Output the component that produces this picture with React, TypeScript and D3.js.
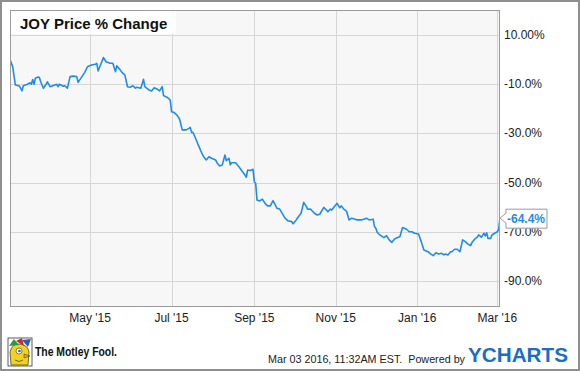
import * as d3 from 'd3';
import { useEffect } from 'react';

const title = 'JOY Price % Change';

// daily % change readings (approx.) off the chart
const dates = [
  '2015-03-02', '2015-03-04', '2015-03-06', '2015-03-09', '2015-03-11', '2015-03-12', '2015-03-15', '2015-03-17',
  '2015-03-18', '2015-03-19', '2015-03-20', '2015-03-21', '2015-03-23', '2015-03-24', '2015-03-25', '2015-03-27',
  '2015-03-29', '2015-03-30', '2015-04-01', '2015-04-03', '2015-04-06', '2015-04-07', '2015-04-08', '2015-04-11',
  '2015-04-12', '2015-04-14', '2015-04-16', '2015-04-18', '2015-04-21', '2015-04-22', '2015-04-24', '2015-04-27',
  '2015-04-29', '2015-05-02', '2015-05-05', '2015-05-06', '2015-05-07', '2015-05-09', '2015-05-11', '2015-05-13',
  '2015-05-16', '2015-05-18', '2015-05-20', '2015-05-21', '2015-05-23', '2015-05-25', '2015-05-27', '2015-05-29',
  '2015-05-31', '2015-06-02', '2015-06-04', '2015-06-05', '2015-06-08', '2015-06-10', '2015-06-11', '2015-06-14',
  '2015-06-16', '2015-06-18', '2015-06-20', '2015-06-22', '2015-06-24', '2015-06-25', '2015-06-28', '2015-06-30',
  '2015-07-01', '2015-07-03', '2015-07-05', '2015-07-07', '2015-07-09', '2015-07-12', '2015-07-14', '2015-07-15',
  '2015-07-16', '2015-07-17', '2015-07-19', '2015-07-21', '2015-07-23', '2015-07-25', '2015-07-27', '2015-07-29',
  '2015-07-31', '2015-08-03', '2015-08-04', '2015-08-06', '2015-08-08', '2015-08-10', '2015-08-11', '2015-08-13',
  '2015-08-14', '2015-08-15', '2015-08-18', '2015-08-20', '2015-08-23', '2015-08-25', '2015-08-26', '2015-08-27',
  '2015-08-29', '2015-08-31', '2015-09-01', '2015-09-02', '2015-09-03', '2015-09-05', '2015-09-07', '2015-09-09',
  '2015-09-11', '2015-09-13', '2015-09-15', '2015-09-18', '2015-09-20', '2015-09-23', '2015-09-24', '2015-09-26',
  '2015-09-29', '2015-09-30', '2015-10-02', '2015-10-04', '2015-10-06', '2015-10-08', '2015-10-10', '2015-10-11',
  '2015-10-13', '2015-10-16', '2015-10-18', '2015-10-20', '2015-10-23', '2015-10-25', '2015-10-26', '2015-10-28',
  '2015-10-29', '2015-10-31', '2015-11-02', '2015-11-04', '2015-11-05', '2015-11-07', '2015-11-09', '2015-11-11',
  '2015-11-13', '2015-11-15', '2015-11-17', '2015-11-20', '2015-11-22', '2015-11-24', '2015-11-26', '2015-11-29',
  '2015-11-30', '2015-12-01', '2015-12-02', '2015-12-04', '2015-12-07', '2015-12-09', '2015-12-11', '2015-12-13',
  '2015-12-15', '2015-12-17', '2015-12-19', '2015-12-21', '2015-12-24', '2015-12-26', '2015-12-28', '2015-12-30',
  '2016-01-02', '2016-01-04', '2016-01-06', '2016-01-09', '2016-01-11', '2016-01-13', '2016-01-15', '2016-01-17',
  '2016-01-19', '2016-01-21', '2016-01-22', '2016-01-24', '2016-01-26', '2016-01-27', '2016-01-29', '2016-01-31',
  '2016-02-02', '2016-02-04', '2016-02-06', '2016-02-08', '2016-02-10', '2016-02-11', '2016-02-13', '2016-02-15',
  '2016-02-16', '2016-02-18', '2016-02-20', '2016-02-21', '2016-02-22', '2016-02-23', '2016-02-25', '2016-02-26',
  '2016-02-28', '2016-03-01', '2016-03-02', '2016-03-03',
];

const pctChange = [
  0, -3, -10.4, -10.8, -12.8, -10.7, -10.1, -9.5,
  -10.1, -8.2, -10.1, -7.7, -7.2, -7.4, -9.1, -11.7,
  -10.1, -9.1, -11.1, -10.7, -10.1, -11.1, -10.1, -10.9,
  -10.7, -11.7, -7, -6.8, -7, -9.3, -7.7, -5.3,
  -3, -2.3, -2, -1.6, -4.7, -2, 0.7, -1,
  -1.6, -1.6, -5, -2.6, -3.9, -5.4, -6.3, -11.1,
  -11.3, -10.7, -11.7, -11.3, -11.7, -8.1, -11.1, -12.4,
  -12.8, -11.5, -12, -12.8, -11.1, -14.7, -15.5, -16.5,
  -21.2, -21.6, -22.6, -24.2, -28.6, -28.6, -28, -27.6,
  -29.6, -29.6, -32, -34.7, -37.2, -39.5, -40.8, -39.5,
  -40.1, -40.8, -41.9, -43.2, -42.8, -38.8, -41.1, -40.1,
  -42.8, -41.9, -41.9, -43.2, -45.5, -46.9, -47.8, -44.9,
  -45.1, -44.6, -49.6, -50.3, -57, -57.4, -56.7, -58.4,
  -59.4, -59.4, -57.3, -60.4, -60.7, -63.5, -64.4, -65.4,
  -65.8, -66.7, -65.4, -63.8, -62.4, -58, -59.7, -60.8,
  -60.7, -62.4, -63.1, -62.8, -60, -61.1, -61.8, -60.7,
  -61.1, -59.7, -58.4, -60.2, -59.4, -60.7, -61.5, -65.1,
  -64.4, -64.7, -65.1, -65.1, -64.8, -64.4, -65.1, -64.8,
  -67.8, -68.5, -70.1, -71.2, -72.3, -71.5, -73.2, -74.2,
  -72.8, -72.3, -71.9, -68.2, -68.9, -69.9, -69.9, -70.5,
  -70.8, -73.9, -77.3, -78, -78.9, -79.6, -78.4, -78.9,
  -78.6, -79.3, -78.9, -79.3, -78, -78, -77, -77,
  -78, -73.2, -73.9, -74.9, -75.5, -74.3, -72.9, -72.1,
  -71.2, -72.1, -70.5, -71.6, -70.3, -72.6, -72.6, -71.2,
  -70.5, -69.9, -68.9, -64.4,
];

const yTicks = [10, -10, -30, -50, -70, -90];
const yTickLabels = ['10.00%', '-10.0%', '-30.0%', '-50.0%', '-70.0%', '-90.0%'];
const xTicks = ['2015-05-01', '2015-07-01', '2015-09-01', '2015-11-01', '2016-01-01', '2016-03-01'];
const xTickLabels = ["May '15", "Jul '15", "Sep '15", "Nov '15", "Jan '16", "Mar '16"];
const lastLabel = '-64.4%';
const stamp = 'Mar 03 2016, 11:32AM EST.\u00a0\u00a0Powered by';

const W = 580;
const H = 371;
const plot = { left: 10, right: 500, top: 10, bottom: 306 };
const font = 'Arial, "Liberation Sans", sans-serif';
const blue = '#1f8ceb';

const parse = d3.utcParse('%Y-%m-%d');

export default function App() {
  useEffect(() => {
    document.body.style.margin = '0';
  }, []);

  const pts = dates.map((d, i) => ({ date: parse(d) as Date, value: pctChange[i] }));

  const x = d3
    .scaleUtc()
    .domain([parse('2015-03-02') as Date, parse('2016-03-03') as Date])
    .range([plot.left, plot.right]);

  const y = d3.scaleLinear().domain([-100, 20]).range([plot.bottom, plot.top]);

  const line = d3
    .line<{ date: Date; value: number }>()
    .x((d) => x(d.date))
    .y((d) => y(d.value));

  const last = pts[pts.length - 1];
  const ly = y(last.value);

  return (
    <svg width={W} height={H} style={{ position: 'fixed', left: 0, top: 0, display: 'block' }} fontFamily={font}>
      <rect x={0} y={0} width={W} height={H} fill="#fff" />
      <rect x={1} y={1} width={W - 2} height={H - 2} fill="none" stroke="#8f8f8f" strokeWidth={2} />

      <defs>
        <clipPath id="plotclip">
          <rect x={plot.left} y={plot.top} width={plot.right - plot.left} height={plot.bottom - plot.top} />
        </clipPath>
      </defs>

      <rect
        x={plot.left}
        y={plot.top}
        width={plot.right - plot.left}
        height={plot.bottom - plot.top}
        fill="#f7f7f7"
      />

      {yTicks.map((t) => (
        <line key={t} x1={plot.left} x2={plot.right} y1={Math.round(y(t)) + 0.5} y2={Math.round(y(t)) + 0.5} stroke="#d6d6d6" />
      ))}
      {xTicks.map((t) => {
        const px = Math.round(x(parse(t) as Date)) + 0.5;
        return <line key={t} x1={px} x2={px} y1={plot.top} y2={plot.bottom} stroke="#d6d6d6" />;
      })}

      <rect x={plot.left} y={plot.top} width={166} height={24} fill="#fff" fillOpacity={0.85} />
      <text x={20} y={29} fontSize={15} fontWeight="bold" fill="#111">
        {title}
      </text>

      <path
        d={line(pts) as string}
        fill="none"
        stroke={blue}
        strokeWidth={1.6}
        strokeLinejoin="round"
        strokeLinecap="round"
        clipPath="url(#plotclip)"
      />

      <rect
        x={plot.left + 0.5}
        y={plot.top + 0.5}
        width={plot.right - plot.left - 1}
        height={plot.bottom - plot.top}
        fill="none"
        stroke="#9a9a9a"
      />

      {yTicks.map((t, i) => (
        <text key={t} x={504} y={y(t) + 4} fontSize={12} fill="#222">
          {yTickLabels[i]}
        </text>
      ))}
      {xTicks.map((t, i) => (
        <text key={t} x={x(parse(t) as Date)} y={322} fontSize={12} fill="#222" textAnchor="middle">
          {xTickLabels[i]}
        </text>
      ))}

      <path
        d={`M${plot.right},${ly} L${plot.right + 6},${ly - 5} V${ly - 9} H${plot.right + 47} V${ly + 10} H${plot.right + 6} V${ly + 5} Z`}
        fill="#fff"
        stroke="#9a9a9a"
      />
      <text x={507} y={ly + 5} fontSize={12} fontWeight="bold" fill={blue}>
        {lastLabel}
      </text>

      {/* Motley Fool logo */}
      <g>
        <rect x={8} y={338} width={24} height={28} fill="#fff" stroke="#333" strokeWidth={0.8} />
        <path d="M10,352 Q12,343 20,344 Q28,345 29,352 L28,365 L11,365 Z" fill="#f3d21b" stroke="#333" strokeWidth={0.7} />
        <path d="M9,346 L14,339 L19,345 Z" fill="#2c9a3a" />
        <path d="M16,341 L22,338 L24,346 Z" fill="#d8262c" />
        <path d="M22,340 L31,339 L28,347 Z" fill="#2a5bb8" />
        <circle cx={19} cy={351} r={3} fill="#fff" stroke="#333" strokeWidth={0.6} />
        <circle cx={19.5} cy={351} r={1.3} fill="#2a5bb8" />
        <path d="M24,354 L30,356 L24,358 Z" fill="#e9a31b" stroke="#333" strokeWidth={0.5} />
        <path d="M15,360 Q19,363 23,360" fill="none" stroke="#333" strokeWidth={0.7} />
      </g>
      <text x={35} y={356} fontSize={12} fontWeight="bold" fill="#111" textLength={82} lengthAdjust="spacingAndGlyphs">
        The Motley Fool.
      </text>

      <text x={268} y={363} fontSize={11} fill="#222" textLength={197} lengthAdjust="spacingAndGlyphs">
        {stamp}
      </text>
      <text x={468} y={362} fontSize={20} fontWeight="bold" fill="#1b6ec2" textLength={100} lengthAdjust="spacingAndGlyphs">
        YCHARTS
      </text>
    </svg>
  );
}
